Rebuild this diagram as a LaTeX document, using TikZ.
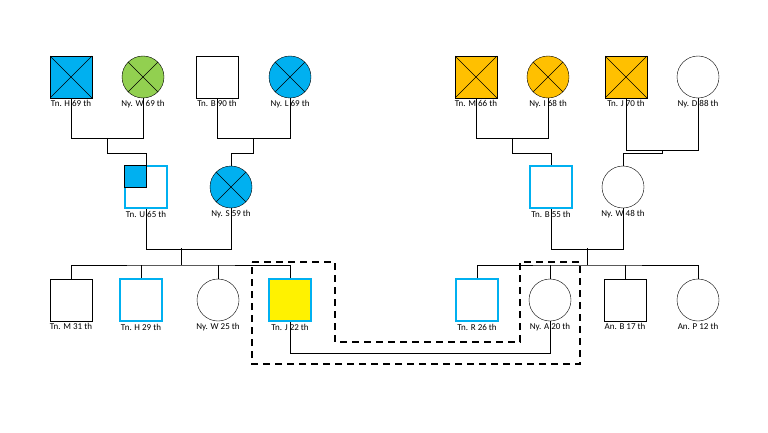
\documentclass[tikz,border=0pt]{standalone}
\usepackage{fontspec}
\setmainfont{Carlito}
\usetikzlibrary{positioning}
\definecolor{sky}{RGB}{0,176,240}
\definecolor{leaf}{RGB}{146,208,80}
\definecolor{amber}{RGB}{255,192,0}
\tikzset{
  male/.style={draw=black, minimum size=42pt, inner sep=0pt},
  female/.style={draw=black, circle, minimum size=42pt, inner sep=0pt},
  marked/.style={draw=sky, line width=1.6pt},
  crossed/.style={path picture={
      \draw[black] (path picture bounding box.north west) -- (path picture bounding box.south east);
      \draw[black] (path picture bounding box.north east) -- (path picture bounding box.south west);}},
  ccross/.style={path picture={
      \draw[black] ([shift={(-45:21pt)}]path picture bounding box.center) -- ([shift={(135:21pt)}]path picture bounding box.center);
      \draw[black] ([shift={(45:21pt)}]path picture bounding box.center) -- ([shift={(-135:21pt)}]path picture bounding box.center);}},
  lbl/.style={below=1pt, font=\fontsize{9}{10}\selectfont, inner sep=1pt},
  link/.style={draw=black, line width=0.6pt},
}
\begin{document}
\begin{tikzpicture}[x=1pt,y=-1pt]
  \useasboundingbox (0,0) rectangle (768,433);
  % generation 1
  \node[male, fill=sky, crossed] (tnh) at (71,77) {};
  \node[female, fill=leaf, ccross] (nyw) at (143,77) {};
  \node[male] (tnb) at (217,77) {};
  \node[female, fill=sky, ccross] (nyl) at (290,77) {};
  \node[male, fill=amber, crossed] (tnm) at (476,77) {};
  \node[female, fill=amber, ccross] (nyi) at (548,77) {};
  \node[male, fill=amber, crossed] (tnj) at (626,77) {};
  \node[female] (nyd) at (698,77) {};
  % generation 2
  \node[male, marked] (tnu) at (146,187) {};
  \node[female, fill=sky, ccross] (nys) at (231,187) {};
  \node[male, marked] (tnbb) at (551,187) {};
  \node[female] (nyww) at (623,187) {};
  \fill[sky, draw=black] (tnu.north west) rectangle (tnu.center);
  % generation 3
  \node[male] (tnm3) at (71,300) {};
  \node[male, marked] (tnh3) at (141,300) {};
  \node[female] (nyw3) at (218,300) {};
  \node[male, marked, fill=yellow] (tnj3) at (290,300) {};
  \node[male, marked] (tnr3) at (477,300) {};
  \node[female] (nya3) at (550,300) {};
  \node[male] (anb3) at (625,300) {};
  \node[female] (anp3) at (698,300) {};
  % couples and children
  \draw[link] (tnh.south) -- ++(0,40) -| (nyw.south);
  \draw[link] (107,138) -- (107,153) -| (tnu.north);
  \draw[link] (tnb.south) -- ++(0,40) -| (nyl.south);
  \draw[link] (253,138) -- (253,153) -| (nys.north);
  \draw[link] (tnm.south) -- ++(0,40) -| (nyi.south);
  \draw[link] (512,138) -- (512,153) -| (tnbb.north);
  \draw[link] (tnj.south) -- ++(0,52) -| (nyd.south);
  \draw[link] (662,150) -- (662,153) -| (nyww.north);
  \draw[link] (tnu.south) -- ++(0,40) -| (nys.south);
  \draw[link] (181,248) -- (181,265);
  \draw[link] (tnm3.north) |- (181,265) -| (tnj3.north);
  \draw[link] (tnh3.north) -- (141,265);
  \draw[link] (nyw3.north) -- (218,265);
  \draw[link] (tnbb.south) -- ++(0,40) -| (nyww.south);
  \draw[link] (587,248) -- (587,265);
  \draw[link] (tnr3.north) |- (587,265) -| (anp3.north);
  \draw[link] (nya3.north) -- (550,265);
  \draw[link] (anb3.north) -- (625,265);
  \draw[link] (tnj3.south) -- ++(0,31) -| (nya3.south);
  % labels
  \foreach \n/\t in {tnh/Tn. H 69 th, nyw/Ny. W 69 th, tnb/Tn. B 90 th, nyl/Ny. L 69 th,
      tnm/Tn. M 66 th, nyi/Ny. I 68 th, tnj/Tn. J 70 th, nyd/Ny. D 88 th,
      tnu/Tn. U 65 th, nys/Ny. S 59 th, tnbb/Tn. B 55 th, nyww/Ny. W 48 th,
      tnm3/Tn. M 31 th, tnh3/Tn. H 29 th, nyw3/Ny. W 25 th, tnj3/Tn. J 22 th,
      tnr3/Tn. R 26 th, nya3/Ny. A 20 th, anb3/An. B 17 th, anp3/An. P 12 th}
    \node[lbl, fill=none] at (\n.south) {\t};
  % dashed frame
  \draw[dashed, line width=1.8pt, dash pattern=on 7pt off 5pt]
    (252,262) -- (335,262) -- (335,342) -- (520,342) -- (520,262) -- (580,262)
    -- (580,364) -- (252,364) -- cycle;
\end{tikzpicture}
\end{document}
